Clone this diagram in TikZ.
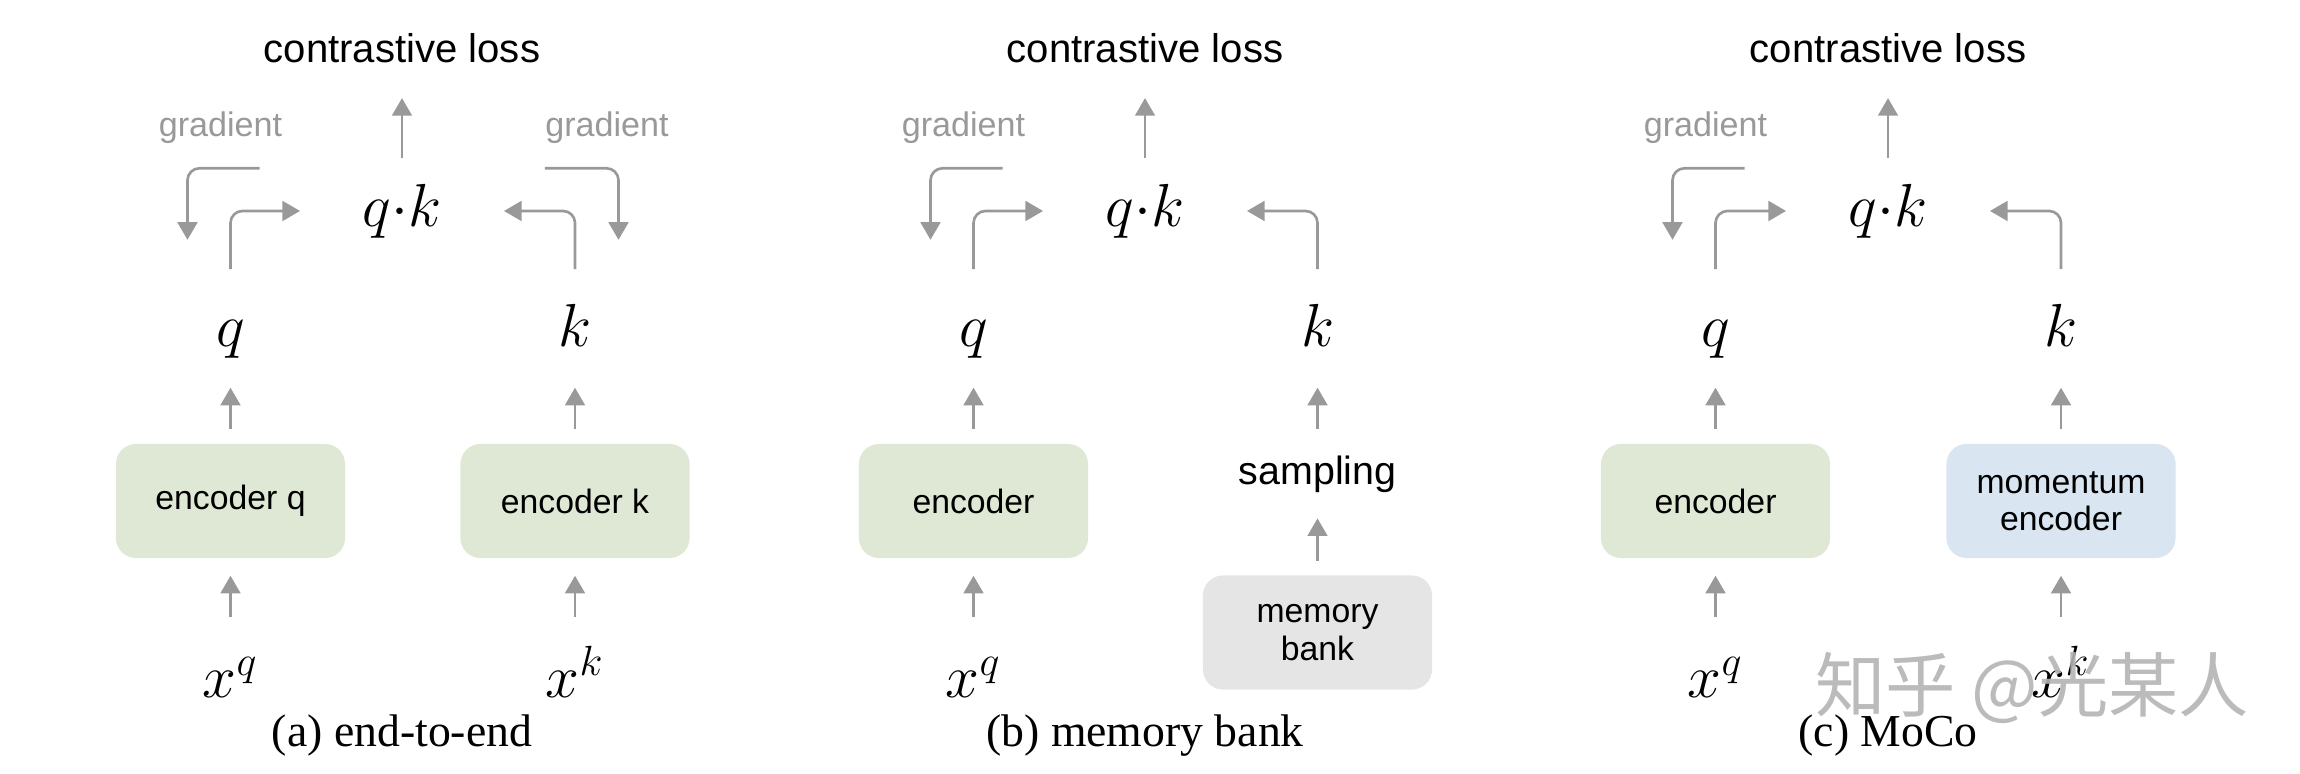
\documentclass[tikz,border=0pt]{standalone}
\usepackage{fontspec}
\setmainfont{Liberation Serif}
\setsansfont{Liberation Sans}
\newfontfamily\cjkfont{Noto Sans CJK SC}
\usetikzlibrary{arrows.meta}
\definecolor{arrgray}{RGB}{153,153,153}
\definecolor{encgreen}{RGB}{223,232,212}
\definecolor{momblue}{RGB}{217,229,240}
\definecolor{bankgray}{RGB}{229,229,229}
\definecolor{wmgray}{RGB}{180,180,180}
\tikzset{
	arr/.style={draw=arrgray,line width=0.75pt,-{Triangle[length=5pt,width=5.6pt]}},
	bendarr/.style={arr,rounded corners=0.12cm},
	lbl/.style={inner sep=0,anchor=base,font=\sffamily\fontsize{11.4}{13}\selectfont},
	gradlbl/.style={inner sep=0,anchor=base,text=arrgray,font=\sffamily\fontsize{9.7}{11}\selectfont},
	mathlbl/.style={inner sep=0,anchor=base,text height=0.45cm,text depth=0.13cm,font=\fontsize{18}{20}\selectfont},
	block/.style={rounded corners=0.2cm,minimum width=2.29cm,minimum height=1.14cm,align=center,font=\sffamily\fontsize{9.6}{10.6}\selectfont},
	capt/.style={inner sep=0,anchor=base,font=\rmfamily\fontsize{13}{15}\selectfont}
}
\begin{document}
\begin{tikzpicture}[x=0.01cm,y=-0.01cm]
	\useasboundingbox (0,0) rectangle (2300,774);
	% parts shared by the three panels
	\foreach \i/\C/\L/\R/\enc/\cap in {a/402/230.5/575/{encoder q}/{(a) end-to-end},b/1145/973.5/1317.5/{encoder}/{(b) memory bank},c/1888/1715.5/2061/{encoder}/{(c) MoCo}}{
		\node[lbl] (loss\i) at (\C,63) {contrastive loss};
		\node[mathlbl] (qk\i) at (\C,227) {$q{\cdot}k$};
		\node[mathlbl] (q\i) at (\L,347) {$q$};
		\node[mathlbl] (k\i) at (\R,347) {$k$};
		\node[gradlbl] (grad\i) at (\L-10,137) {gradient};
		\node[block,fill=encgreen] (enc\i) at (\L,501) {\enc};
		\node[mathlbl] (xq\i) at (\L,698) {$x^q$};
		\node[capt] (cap\i) at (\C,747) {\cap};
		\draw[arr,shorten <=0.23cm,shorten >=0.34cm] (qk\i) -- (loss\i);
		\draw[bendarr] ([yshift=0.32cm]q\i.north) |- ([xshift=-0.62cm]qk\i.west);
		\draw[bendarr] ([yshift=0.32cm]k\i.north) |- ([xshift=0.62cm]qk\i.east);
		\draw[bendarr] ([xshift=0.39cm,yshift=-0.235cm]grad\i.south) -| ([xshift=-0.33cm,yshift=-0.95cm]grad\i.south);
		\draw[arr,shorten <=0.14cm,shorten >=0.27cm] (enc\i) -- (q\i);
		\draw[arr,shorten <=0.35cm,shorten >=0.17cm] (xq\i) -- (enc\i);
	}
	% (a) end-to-end
	\node[gradlbl] (gradRa) at (607,137) {gradient};
	\node[block,fill=encgreen] (encka) at (575,501) {encoder k};
	\node[mathlbl] (xka) at (575,698) {$x^k$};
	\draw[bendarr] ([xshift=-0.62cm,yshift=-0.235cm]gradRa.south) -| ([xshift=0.115cm,yshift=-0.95cm]gradRa.south);
	\draw[arr,shorten <=0.14cm,shorten >=0.27cm] (encka) -- (ka);
	\draw[arr,shorten <=0.35cm,shorten >=0.17cm] (xka) -- (encka);
	% (b) memory bank
	\node[lbl,font=\sffamily\fontsize{11.2}{13}\selectfont] (samp) at (1317.5,485) {sampling};
	\node[block,fill=bankgray] (bank) at (1317.5,632.5) {memory\\bank};
	\draw[arr,shorten <=0.27cm,shorten >=0.27cm] (samp) -- (kb);
	\draw[arr,shorten <=0.14cm,shorten >=0.245cm] (bank) -- (samp);
	% (c) MoCo
	\node[block,fill=momblue] (momc) at (2061,501) {momentum\\encoder};
	\node[mathlbl] (xkc) at (2061,698) {$x^k$};
	\draw[arr,shorten <=0.14cm,shorten >=0.27cm] (momc) -- (kc);
	\draw[arr,shorten <=0.35cm,shorten >=0.17cm] (xkc) -- (momc);
	\node[text=wmgray,opacity=0.9,inner sep=0,font=\cjkfont\fontsize{20}{22}\selectfont] (wmark) at (2032,688) {知乎\ @光某人};
\end{tikzpicture}
\end{document}
